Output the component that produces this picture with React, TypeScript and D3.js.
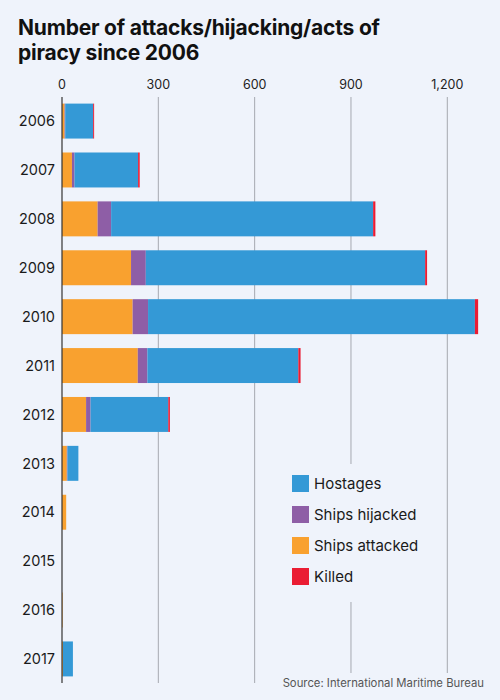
import React, { useEffect, useRef } from 'react';
import * as d3 from 'd3';

const years = ['2006', '2007', '2008', '2009', '2010', '2011', '2012', '2013', '2014', '2015', '2016', '2017'];
const shipsAttacked = [8, 31, 111, 215, 220, 236, 75, 15, 13, 0, 2, 3];
const shipsHijacked = [2, 8, 42, 46, 48, 30, 14, 2, 0, 0, 0, 0];
const hostages = [87, 198, 816, 870, 1018, 470, 242, 34, 0, 0, 0, 31];
const killed = [3, 5, 7, 6, 10, 7, 5, 0, 0, 0, 0, 0];
const xTicks = [0, 300, 600, 900, 1200];

const seriesKeys = ['attacked', 'hijacked', 'hostages', 'killed'];
const colors: Record<string, string> = {
  attacked: '#f9a12f',
  hijacked: '#8e5ea6',
  hostages: '#3499d6',
  killed: '#ea1c33',
};
const legendItems = [
  { key: 'hostages', label: 'Hostages' },
  { key: 'hijacked', label: 'Ships hijacked' },
  { key: 'attacked', label: 'Ships attacked' },
  { key: 'killed', label: 'Killed' },
];

const App: React.FC = () => {
  const ref = useRef<SVGSVGElement>(null);
  const width = 500;
  const height = 700;
  const font = 'Inter, "Noto Sans", sans-serif';

  useEffect(() => {
    if (!ref.current) return;
    const svg = d3.select(ref.current);
    svg.selectAll('*').remove();

    svg.append('rect').attr('width', width).attr('height', height).attr('fill', '#eff3fb');

    // title
    const title = svg
      .append('text')
      .attr('font-family', font)
      .attr('font-weight', 700)
      .attr('font-size', 21)
      .attr('letter-spacing', -0.2)
      .attr('fill', '#111');
    title.append('tspan').attr('x', 18).attr('y', 34.5).text('Number of attacks/hijacking/acts of');
    title.append('tspan').attr('x', 18).attr('y', 60).text('piracy since 2006');

    const data = years.map((y, i) => ({
      year: y,
      attacked: shipsAttacked[i],
      hijacked: shipsHijacked[i],
      hostages: hostages[i],
      killed: killed[i],
    }));

    const x = d3.scaleLinear().domain([0, 1200]).range([62, 447.3]);
    const y = d3
      .scaleBand()
      .domain(years)
      .range([97, 683])
      .paddingInner(0.285)
      .paddingOuter(0.135);

    // grid
    svg
      .append('g')
      .selectAll('line')
      .data(xTicks.slice(1))
      .enter()
      .append('line')
      .attr('x1', (d) => x(d))
      .attr('x2', (d) => x(d))
      .attr('y1', 97)
      .attr('y2', 683)
      .attr('stroke', '#a6a8b0')
      .attr('stroke-width', 1);

    svg
      .append('g')
      .selectAll('text')
      .data(xTicks)
      .enter()
      .append('text')
      .attr('x', (d) => x(d))
      .attr('y', 89)
      .attr('text-anchor', 'middle')
      .attr('font-family', font)
      .attr('font-size', 12.5)
      .attr('fill', '#222')
      .text((d) => d3.format(',')(d));

    // bars
    const stack = d3.stack<any>().keys(seriesKeys);
    const layers = stack(data);
    svg
      .append('g')
      .selectAll('g')
      .data(layers)
      .enter()
      .append('g')
      .attr('fill', (d) => colors[d.key])
      .selectAll('rect')
      .data((d) => d)
      .enter()
      .append('rect')
      .attr('x', (d) => x(d[0]))
      .attr('y', (d) => y(d.data.year)!)
      .attr('width', (d) => Math.max(0, x(d[1]) - x(d[0])))
      .attr('height', y.bandwidth());

    // zero axis
    svg
      .append('line')
      .attr('x1', x(0))
      .attr('x2', x(0))
      .attr('y1', 97)
      .attr('y2', 683)
      .attr('stroke', '#333')
      .attr('stroke-width', 1.2);

    // year labels
    svg
      .append('g')
      .selectAll('text')
      .data(years)
      .enter()
      .append('text')
      .attr('x', 55)
      .attr('y', (d) => y(d)! + y.bandwidth() / 2)
      .attr('dy', '0.36em')
      .attr('text-anchor', 'end')
      .attr('font-family', font)
      .attr('font-size', 14.5)
      .attr('fill', '#1a1a1a')
      .text((d) => d);

    // legend
    const legend = svg.append('g');
    legend
      .append('rect')
      .attr('x', 282)
      .attr('y', 464)
      .attr('width', 150)
      .attr('height', 138)
      .attr('fill', '#eff3fb');
    legendItems.forEach((item, i) => {
      const ly = 475 + i * 31;
      legend
        .append('rect')
        .attr('x', 292)
        .attr('y', ly)
        .attr('width', 17)
        .attr('height', 17)
        .attr('fill', colors[item.key]);
      legend
        .append('text')
        .attr('x', 314)
        .attr('y', ly + 8.5)
        .attr('dy', '0.36em')
        .attr('font-family', font)
        .attr('font-size', 15)
        .attr('fill', '#1a1a1a')
        .text(item.label);
    });

    // source
    svg
      .append('rect')
      .attr('x', 278)
      .attr('y', 673)
      .attr('width', 215)
      .attr('height', 22)
      .attr('fill', '#eff3fb');
    svg
      .append('text')
      .attr('x', 484)
      .attr('y', 687)
      .attr('text-anchor', 'end')
      .attr('font-family', font)
      .attr('font-size', 11.3)
      .attr('fill', '#555')
      .text('Source: International Maritime Bureau');
  }, []);

  return (
    <svg
      ref={ref}
      width={width}
      height={height}
      style={{ position: 'absolute', left: 0, top: 0 }}
    />
  );
};

export default App;
